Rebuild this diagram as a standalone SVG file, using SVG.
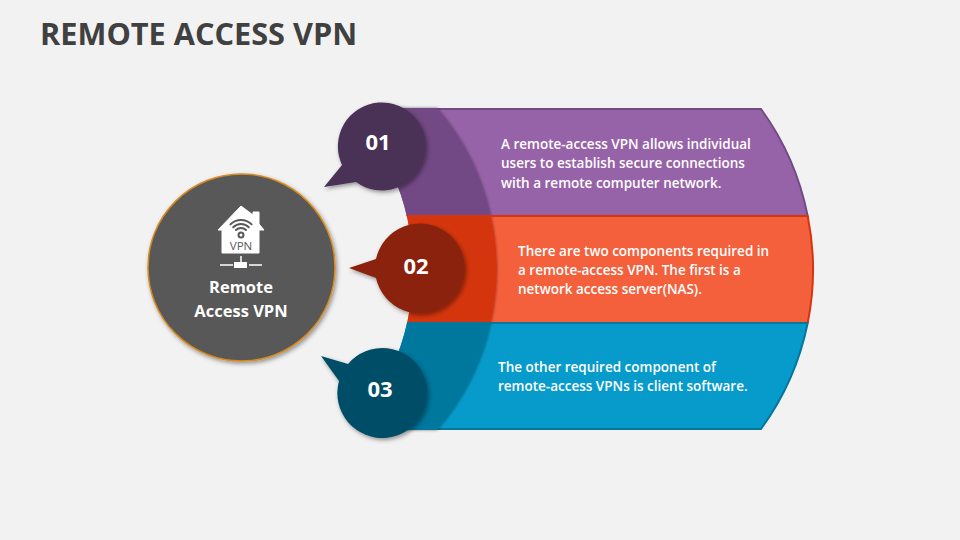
<svg xmlns="http://www.w3.org/2000/svg" width="960" height="540" viewBox="0 0 960 540">
<defs>
<filter id="sh" x="-20%" y="-20%" width="140%" height="140%"><feDropShadow dx="1.5" dy="2" stdDeviation="2" flood-color="#000" flood-opacity="0.4"/></filter>
<filter id="sh2" x="-10%" y="-10%" width="120%" height="120%"><feDropShadow dx="0" dy="0" stdDeviation="1.500" flood-color="#000" flood-opacity="0.5"/></filter>
<clipPath id="lens"><path d="M385 100H900V440H385V370H391A238 238 0 0 0 391 170H385Z"/></clipPath>
<clipPath id="inner"><path d="M385 100H900V440H385V370H391A238 238 0 0 0 391 170H385Z"/></clipPath>
</defs>
<style>
text{font-family:"Open Sans","Liberation Sans",sans-serif}
.t{font-size:13.5px;font-weight:600;fill:#fff}
.n{font-size:22px;font-weight:700;fill:#fff;text-anchor:middle}
.c{font-size:16.5px;font-weight:700;fill:#fff;text-anchor:middle}
.w{fill:none;stroke:#595959;stroke-width:2;stroke-linecap:round}
</style>
<rect width="960" height="540" fill="#f2f2f2"/>
<text x="40" y="45" font-size="30.700" font-weight="700" fill="#404040" id="title">REMOTE ACCESS VPN</text>
<g id="bands" clip-path="url(#lens)">
<g id="band-1">
<path d="M340 109H761A272 272 0 0 1 807.700 216H340Z" fill="#9763a8" stroke="#724a84" stroke-width="2"/>
</g>
<g id="band-3">
<path d="M340 323H807.700A272 272 0 0 1 761 429H340Z" fill="#079bcb" stroke="#05779d" stroke-width="2"/>
</g>
<g id="band-2">
<path d="M340 216H807.700A272 272 0 0 1 807.700 323H340Z" fill="#f4603c"/>
<path d="M807.700 216A272 272 0 0 1 807.700 323" fill="none" stroke="#d5350f" stroke-width="2"/>
</g>
<g filter="url(#sh2)">
<path d="M340 108H437A243 243 0 0 1 490.800 216H340Z" fill="#724a84"/>
<path d="M340 216H490.800A243 243 0 0 1 490.800 323H340Z" fill="#d5350f"/>
<path d="M340 323H490.800A243 243 0 0 1 437 430H340Z" fill="#05779d"/>
</g>
<path d="M340 216H808" stroke="#d5350f" stroke-width="2"/>
<path d="M340 323H808" stroke="#05779d" stroke-width="2"/>
</g>
<g id="hub" filter="url(#sh)">
<circle cx="241.500" cy="267.500" r="93.500" fill="#595959" stroke="#d98a1e" stroke-width="1.500"/>
</g>
<g id="hub-icon">
<path d="M241 206L253 215V212H259V224L264 230H259V253H222V230H218Z" fill="#fff" stroke="#fff" stroke-linejoin="round"/>
<path class="w" d="M230.400 224.400A15 15 0 0 1 251.600 224.400"/>
<path class="w" d="M233.200 227.200A11 11 0 0 1 248.800 227.200"/>
<path class="w" d="M236 230A7 7 0 0 1 246 230"/>
<circle cx="241" cy="235" r="2.500" fill="none" stroke="#595959" stroke-width="2"/>
<text x="241" y="250" font-size="11.500" fill="#595959" text-anchor="middle">VPN</text>
<path d="M241 256V262M220 265H233M249 265H262" stroke="#fff" stroke-width="1.500" fill="none"/>
<rect x="234" y="262" width="13" height="6" fill="#fff"/>
<text class="c" x="241" y="293">Remote</text>
<text class="c" x="241" y="317">Access VPN</text>
</g>
<g id="node-01">
<path filter="url(#sh)" d="M324 187L342 165A44 44 0 1 1 356 182Z" fill="#4a3055"/>
<text class="n" x="378" y="150">01</text>
<text class="t"><tspan x="501" y="149">A remote-access VPN allows individual</tspan><tspan x="501" y="168">users to establish secure connections</tspan><tspan x="501" y="188">with a remote computer network.</tspan></text>
</g>
<g id="node-02">
<path filter="url(#sh)" d="M349 268L376 259A45 45 0 1 1 376 278Z" fill="#8b2209"/>
<text class="n" x="416" y="274">02</text>
<text class="t"><tspan x="518" y="256">There are two components required in</tspan><tspan x="518" y="275">a remote-access VPN. The first is a</tspan><tspan x="518" y="294">network access server(NAS).</tspan></text>
</g>
<g id="node-03">
<path filter="url(#sh)" d="M321 356L348 364A45 45 0 1 1 339 381Z" fill="#024e68"/>
<text class="n" x="380" y="397">03</text>
<text class="t"><tspan x="498" y="372">The other required component of</tspan><tspan x="498" y="391">remote-access VPNs is client software.</tspan></text>
</g>
</svg>
